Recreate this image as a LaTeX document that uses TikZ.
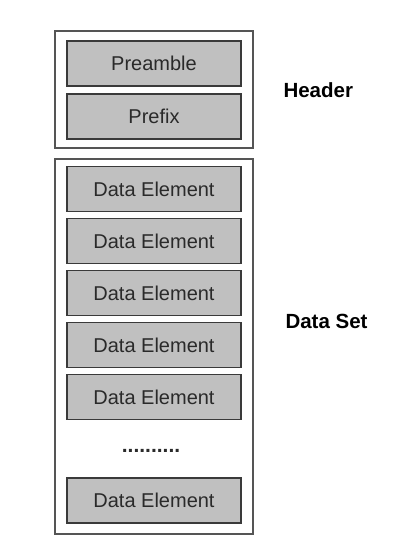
\documentclass[tikz,border=0pt]{standalone}
\usepackage{fontspec}
\setmainfont{Liberation Sans}
\usetikzlibrary{positioning}

\definecolor{cellgray}{HTML}{C0C0C0}
\definecolor{edgegray}{HTML}{3A3A3A}
\definecolor{framegray}{HTML}{555555}
\definecolor{textgray}{HTML}{2A2A2A}

\begin{document}
\begin{tikzpicture}[x=1pt, y=-1pt,
    cell/.style={draw=edgegray, fill=cellgray, line width=1.4pt, rectangle,
      minimum width=174pt, minimum height=45pt, inner sep=0pt,
      text=textgray, font=\fontsize{20}{24}\selectfont},
    frame/.style={draw=framegray, line width=1.6pt, rectangle,
      minimum width=198pt, inner sep=0pt},
    tag/.style={anchor=west, font=\fontsize{20.5}{24}\selectfont\bfseries}]
        \useasboundingbox (0,0) rectangle (409,548);
        % Frames
        \node[frame, minimum height=117pt] (Header) at (154,89.5) {};
        \node[frame, minimum height=375pt] (DataSet) at (154,346.5) {};
        % Header cells
        \node[cell] (Preamble) at (154,63.5) {Preamble};
        \node[cell] (Prefix) at (154,116.5) {Prefix};
        % Data elements
        \foreach \i/\y in {1/189, 2/241, 3/293, 4/345, 5/397}
            \node[cell] (Element\i) at (154,\y) {Data Element};
        \node[font=\fontsize{21}{24}\selectfont\bfseries, text=textgray] (Dots) at (151,451) {..........};
        \node[cell] (ElementN) at (154,500.5) {Data Element};
        % Labels
        \node[tag] (HeaderTag) at (280,90) {Header};
        \node[tag] (DataSetTag) at (282,321) {Data Set};
    \end{tikzpicture}
\end{document}
